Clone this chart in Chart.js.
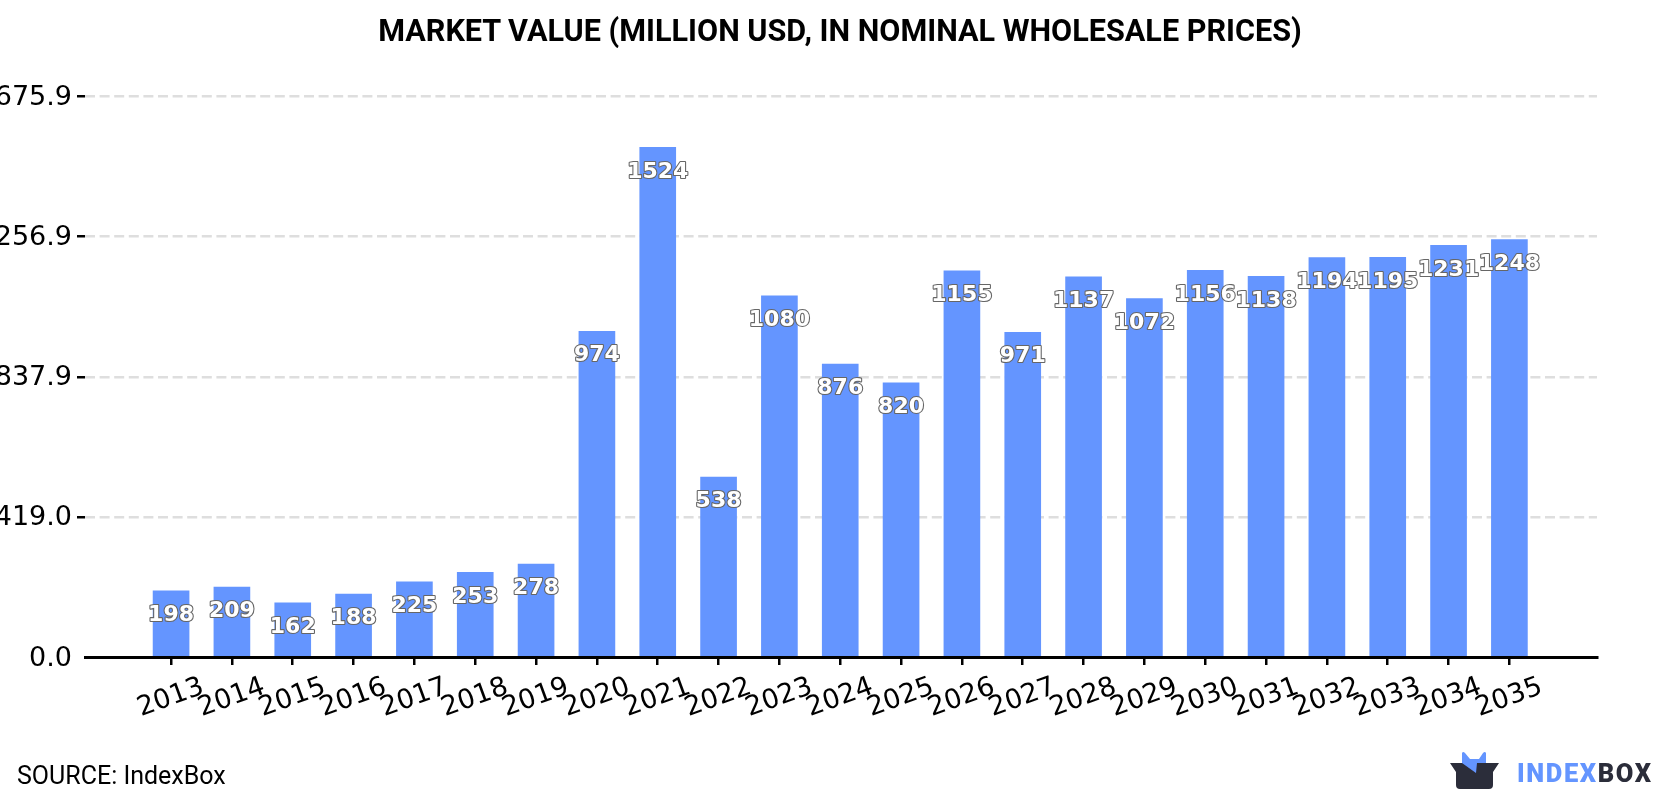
<!DOCTYPE html>
<html>
<head>
<meta charset="utf-8">
<title>Market value</title>
<script src="https://cdn.jsdelivr.net/npm/chart.js@4/dist/chart.umd.min.js"></script>
<style>
  html, body { margin: 0; padding: 0; background: #fff; }
  #wrap { position: relative; width: 1680px; height: 800px; overflow: hidden; }
  #title { position: absolute; left: 0; width: 1680px; top: 13px; text-align: center; font: 700 30.6px Roboto, sans-serif; color: #000; }
  #source { position: absolute; left: 17px; top: 761px; font: 25px Roboto, sans-serif; color: #000; }
  #logo { position: absolute; left: 1450px; top: 750px; }
  #brand { position: absolute; left: 1517px; top: 758px; font: 900 25.5px Roboto, sans-serif; letter-spacing: 1.6px; color: #6495ff; }
  #brand span { color: #2b2d3a; }
</style>
</head>
<body>
<div id="wrap">
  <canvas id="chart" width="1680" height="800"></canvas>
  <div id="title">MARKET VALUE (MILLION USD, IN NOMINAL WHOLESALE PRICES)</div>
  <div id="source">SOURCE: IndexBox</div>
  <svg id="logo" width="50" height="40" viewBox="0 0 50 40">
    <path d="M0 13 H49 L43 22 V35 Q43 39 39 39 H10 Q6 39 6 35 V22 Z" fill="#2b2d3a"/>
    <path d="M12 13 L12 3 Q13 1 15 3 L20 9 H29 L33 3 Q35 1 36 3 L36 13 L27 13 L26 23 L12 13 Z" fill="#6495ff"/>
  </svg>
  <div id="brand">INDEX<span>BOX</span></div>
</div>
<script>
'use strict';

const YEARS = [2013, 2014, 2015, 2016, 2017, 2018, 2019, 2020, 2021, 2022, 2023, 2024,
               2025, 2026, 2027, 2028, 2029, 2030, 2031, 2032, 2033, 2034, 2035];
const VALUES = [198, 209, 162, 188, 225, 253, 278, 974, 1524, 538, 1080, 876,
                820, 1155, 971, 1137, 1072, 1156, 1138, 1194, 1195, 1231, 1248];
const Y_TICKS = [0, 419.0, 837.9, 1256.9, 1675.9];

const BLUE = '#6495ff';

// value captions: white bold digits with a thin grey outline, below each bar top
const barLabels = {
    id: 'barLabels',
    afterDatasetsDraw(chart) {
        const { ctx } = chart;
        const bars = chart.getDatasetMeta(0).data;
        ctx.save();
        ctx.font = 'bold 22px "DejaVu Sans"';
        ctx.textAlign = 'center';
        ctx.textBaseline = 'middle';
        ctx.lineJoin = 'round';
        bars.forEach((bar, i) => {
            const txt = String(VALUES[i]);
            ctx.lineWidth = 2.2;
            ctx.strokeStyle = '#666';
            ctx.strokeText(txt, bar.x, bar.y + 24.5);
            ctx.fillStyle = '#fff';
            ctx.fillText(txt, bar.x, bar.y + 24.5);
        });
        ctx.restore();
    }
};

new Chart(document.getElementById('chart'), {
    type: 'bar',
    data: {
        datasets: [{
            data: YEARS.map((y, i) => ({ x: y, y: VALUES[i] })),
            backgroundColor: BLUE,
            barThickness: 36,
            borderWidth: 0
        }]
    },
    plugins: [barLabels],
    options: {
        responsive: false,
        animation: false,
        layout: { padding: { left: 0, right: 83, top: 96.5, bottom: 0 } },
        plugins: {
            legend: { display: false },
            tooltip: { enabled: false },
            title: { display: false }
        },
        scales: {
            x: {
                type: 'linear',
                offset: false,
                min: 2011.585,
                max: 2036.44,
                afterBuildTicks: s => { s.ticks = YEARS.map(v => ({ value: v })); },
                afterFit: s => { s.height = 143; },
                border: { color: '#000', width: 3 },
                grid: { offset: false, drawOnChartArea: false, color: '#000', lineWidth: 2.5, tickLength: 8 },
                ticks: {
                    color: '#000',
                    font: { family: 'DejaVu Sans', size: 27 },
                    minRotation: 20,
                    maxRotation: 20,
                    autoSkip: false,
                    labelOffset: 32,
                    padding: 6,
                    callback: v => String(v)
                }
            },
            y: {
                min: 0,
                max: 1675.9,
                afterBuildTicks: s => { s.ticks = Y_TICKS.map(v => ({ value: v })); },
                afterFit: s => { s.width = 85; },
                border: { display: false, dash: [10, 4.6] },
                grid: {
                    color: c => c.tick.value === 0 ? 'rgba(0,0,0,0)' : '#dedede',
                    lineWidth: 2.5,
                    tickColor: c => c.tick.value === 0 ? 'rgba(0,0,0,0)' : '#000',
                    tickLength: 8
                },
                ticks: {
                    color: '#000',
                    font: { family: 'DejaVu Sans', size: 27 },
                    padding: 5,
                    labelOffset: 1.5,
                    autoSkip: false,
                    callback: v => v.toFixed(1)
                }
            }
        }
    }
});
</script>
</body>
</html>
